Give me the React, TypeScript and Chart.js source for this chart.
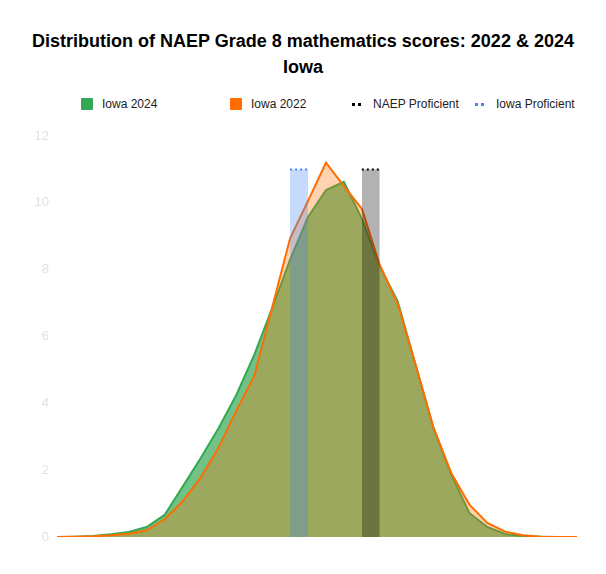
import { useEffect, useRef } from 'react';
import { Chart, registerables } from 'chart.js';

Chart.register(...registerables);

// score bins along the (hidden) x axis
const scoreBins = [
  '120', '130', '140', '150', '160', '170', '180', '190', '200', '210',
  '220', '230', '240', '250', '260', '270', '280', '290', '300', '310',
  '320', '330', '340', '350', '360', '370', '380', '390', '400', '410',
];

// percent of students per bin
const iowa2024 = [
  0, 0.01, 0.03, 0.08, 0.15, 0.3, 0.66, 1.5, 2.35, 3.25,
  4.25, 5.45, 6.85, 8.3, 9.58, 10.38, 10.63, 9.53, 8.1, 7.05,
  5.15, 3.25, 1.85, 0.72, 0.3, 0.09, 0.02, 0.01, 0, 0,
];
const iowa2022 = [
  0, 0.01, 0.02, 0.05, 0.1, 0.2, 0.53, 1.06, 1.77, 2.66,
  3.78, 4.82, 6.87, 8.94, 10.06, 11.2, 10.5, 9.82, 8.14, 6.98,
  5.15, 3.27, 1.9, 0.97, 0.42, 0.16, 0.05, 0.01, 0, 0,
];
// proficiency bands: only the two bins around each cut score
const naepProficient = scoreBins.map((b) => (b === '290' || b === '300' ? 11 : null));
const iowaProficient = scoreBins.map((b) => (b === '250' || b === '260' ? 11 : null));

const yMin = 0;
const yMax = 12;
const yStep = 2;

const FONT = '"Liberation Sans", Arial, sans-serif';

type LegendItem = { label: string; color: string; kind: 'box' | 'dots'; left: number };

const legendItems: LegendItem[] = [
  { label: 'Iowa 2024', color: '#34a853', kind: 'box', left: 81 },
  { label: 'Iowa 2022', color: '#ff6d01', kind: 'box', left: 230 },
  { label: 'NAEP Proficient', color: '#000000', kind: 'dots', left: 352 },
  { label: 'Iowa Proficient', color: '#4285f4', kind: 'dots', left: 475 },
];

export default function App() {
  const canvasRef = useRef<HTMLCanvasElement>(null);

  useEffect(() => {
    document.body.style.margin = '0';
    if (!canvasRef.current) return;

    const chart = new Chart(canvasRef.current, {
      type: 'line',
      data: {
        labels: scoreBins,
        datasets: [
          {
            label: 'Iowa 2024',
            data: iowa2024,
            borderColor: '#34a853',
            backgroundColor: 'rgba(52,168,83,0.7)',
            fill: 'origin',
            borderWidth: 2,
            order: 4,
          },
          {
            label: 'Iowa 2022',
            data: iowa2022,
            borderColor: '#ff6d01',
            backgroundColor: 'rgba(255,109,1,0.3)',
            fill: 'origin',
            borderWidth: 2,
            order: 3,
          },
          {
            label: 'NAEP Proficient',
            data: naepProficient,
            borderColor: '#000000',
            backgroundColor: 'rgba(0,0,0,0.3)',
            fill: 'origin',
            borderWidth: 2,
            borderDash: [2, 3],
            spanGaps: false,
            order: 2,
          },
          {
            label: 'Iowa Proficient',
            data: iowaProficient,
            borderColor: '#4285f4',
            backgroundColor: 'rgba(66,133,244,0.3)',
            fill: 'origin',
            borderWidth: 2,
            borderDash: [2, 3],
            spanGaps: false,
            order: 1,
          },
        ],
      },
      options: {
        animation: false,
        responsive: false,
        maintainAspectRatio: false,
        layout: { padding: { top: 136, right: 29, bottom: 37, left: 0 } },
        elements: {
          point: { radius: 0, hoverRadius: 0 },
          line: { tension: 0 },
        },
        plugins: {
          legend: { display: false },
          title: { display: false },
          tooltip: { enabled: false },
        },
        scales: {
          x: { display: false, offset: false },
          y: {
            min: yMin,
            max: yMax,
            ticks: {
              stepSize: yStep,
              color: '#e2e2e2',
              padding: 8,
              font: { family: FONT, size: 13 },
            },
            grid: { display: false, drawTicks: false },
            border: { display: false },
            afterFit: (scale) => {
              scale.width = 57;
            },
          },
        },
      },
    });

    return () => chart.destroy();
  }, []);

  return (
    <div style={{ position: 'relative', width: 606, height: 574, background: '#fff', fontFamily: FONT }}>
      <div
        style={{
          position: 'absolute',
          top: 30,
          left: 0,
          width: 606,
          textAlign: 'center',
          fontWeight: 'bold',
          fontSize: 18,
          lineHeight: '22px',
          color: '#000',
        }}
      >
        Distribution of NAEP Grade 8 mathematics scores: 2022 &amp; 2024
      </div>
      <div
        style={{
          position: 'absolute',
          top: 56,
          left: 0,
          width: 606,
          textAlign: 'center',
          fontWeight: 'bold',
          fontSize: 18,
          lineHeight: '22px',
          color: '#000',
        }}
      >
        Iowa
      </div>
      {legendItems.map((item) => (
        <div
          key={item.label}
          style={{
            position: 'absolute',
            top: 97,
            left: item.left,
            height: 14,
            display: 'flex',
            alignItems: 'center',
            fontSize: 12,
            color: '#222',
            whiteSpace: 'nowrap',
          }}
        >
          {item.kind === 'box' ? (
            <span style={{ width: 12, height: 12, background: item.color, marginRight: 9, borderRadius: 1 }} />
          ) : (
            <span style={{ display: 'flex', width: 10, marginRight: 11 }}>
              <span style={{ width: 3, height: 3, background: item.color, marginRight: 3 }} />
              <span style={{ width: 3, height: 3, background: item.color }} />
            </span>
          )}
          <span>{item.label}</span>
        </div>
      ))}
      <canvas ref={canvasRef} width={606} height={574} style={{ position: 'absolute', top: 0, left: 0 }} />
    </div>
  );
}
